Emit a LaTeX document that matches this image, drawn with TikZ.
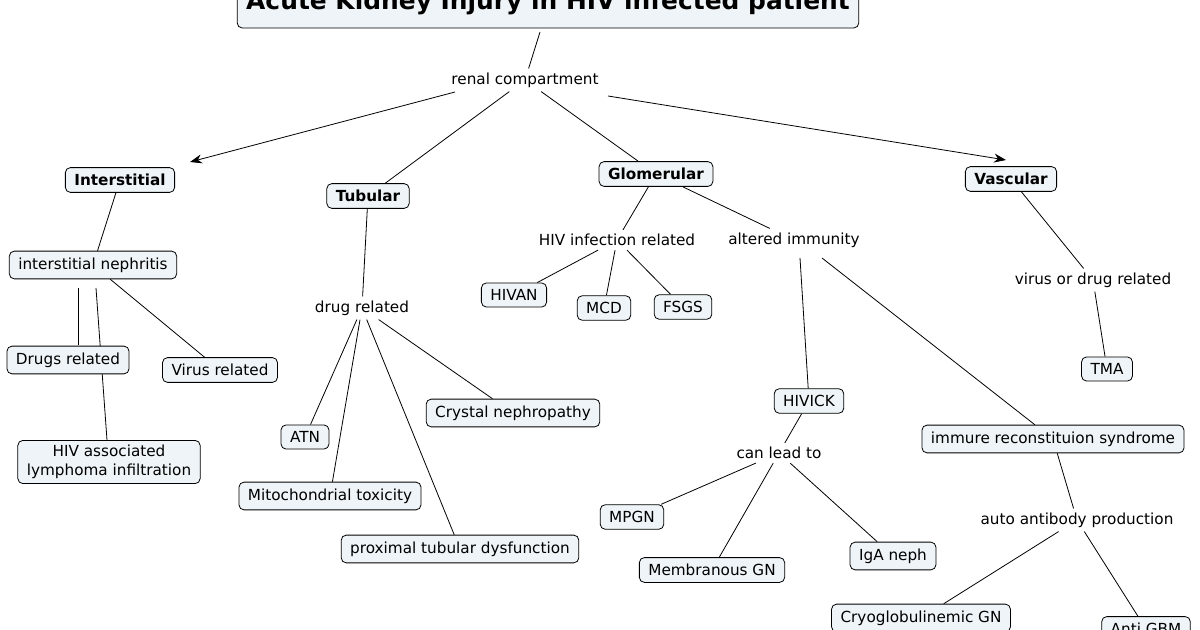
\documentclass[tikz,border=0pt]{standalone}
\usepackage{fontspec}
\setmainfont{DejaVu Sans}
\usetikzlibrary{backgrounds,arrows.meta}
\definecolor{boxfill}{HTML}{EEF4F7}
\tikzset{
  bx/.style={draw=black,fill=boxfill,rounded corners=5bp,line width=0.8bp,inner xsep=9bp,inner ysep=6.5bp,font=\fontsize{15.3}{18.5}\selectfont,align=center},
  bb/.style={bx,font=\fontsize{15.3}{18.5}\selectfont\bfseries},
  lb/.style={inner sep=4bp,font=\fontsize{15.3}{18.5}\selectfont},
  ln/.style={line width=0.8bp},
  ar/.style={ln,-{Stealth[length=12bp,width=9bp]}}
}
\begin{document}
\begin{tikzpicture}[x=1bp,y=-1bp]
\useasboundingbox (0,0) rectangle (1200,630);
\clip (0,0) rectangle (1200,630);
\node[bx,font=\fontsize{25}{29}\selectfont\bfseries,minimum width=621bp,minimum height=50bp,inner ysep=4bp] (t) at (548,3) {Acute Kidney Injury in HIV infected patient};
\node[lb] (rc) at (525,80) {renal compartment};
\node[bb] (int) at (120,180) {Interstitial};
\node[bb] (tub) at (368,196) {Tubular};
\node[bb] (glo) at (656,174) {Glomerular};
\node[bb] (vas) at (1011,179) {Vascular};
\node[lb] (hir) at (617,240) {HIV infection related};
\node[lb] (ai) at (794,240) {altered immunity};
\node[bx] (in) at (93,265) {interstitial nephritis};
\node[bx] (hivan) at (514,295) {HIVAN};
\node[bx] (mcd) at (604,308) {MCD};
\node[bx] (fsgs) at (683,307) {FSGS};
\node[lb] (vdr) at (1093,280) {virus or drug related};
\node[lb] (dr) at (362,308) {drug related};
\node[bx] (drg) at (68,360) {Drugs related};
\node[bx] (vir) at (220,370) {Virus related};
\node[bx] (tma) at (1107,369) {TMA};
\node[bx] (hivick) at (809,401) {HIVICK};
\node[bx] (cry) at (513,413) {Crystal nephropathy};
\node[bx] (atn) at (305,437) {ATN};
\node[bx] (irs) at (1053,439) {immure reconstituion syndrome};
\node[bx,inner ysep=5bp] (hal) at (109,462) {HIV associated\\lymphoma infiltration};
\node[lb] (clt) at (779,453) {can lead to};
\node[bx] (mito) at (330,496) {Mitochondrial toxicity};
\node[bx] (mpgn) at (632,517) {MPGN};
\node[lb] (aap) at (1077,520) {auto antibody production};
\node[bx] (ptd) at (460,549) {proximal tubular dysfunction};
\node[bx] (iga) at (893,556) {IgA neph};
\node[bx] (mgn) at (712,570) {Membranous GN};
\node[bx] (cgn) at (921,618) {Cryoglobulinemic GN};
\node[bx] (gbm) at (1146,629) {Anti GBM};
\begin{scope}[on background layer]
\fill[white] (0,0) rectangle (1200,630);
\draw[ln] (540,32) -- (rc);
\coordinate (r1) at (455,92);
\draw[ar] (r1) -- (190,162);
\draw[ln] (rc) -- (tub);
\draw[ln] (rc) -- (glo);
\coordinate (r2) at (608,96);
\draw[ar] (r2) -- (1006,160);
\draw[ln] (int) -- (in);
\draw[ln] (78,288) -- (78,345);
\draw[ln] (96,288) -- (107,440);
\draw[ln] (in) -- (vir);
\draw[ln] (tub) -- (dr);
\draw[ln] (dr) -- (atn);
\draw[ln] (dr) -- (mito);
\draw[ln] (dr) -- (ptd);
\draw[ln] (dr) -- (cry);
\draw[ln] (glo) -- (hir);
\draw[ln] (glo) -- (ai);
\draw[ln] (hir) -- (hivan);
\draw[ln] (hir) -- (mcd);
\draw[ln] (hir) -- (fsgs);
\coordinate (a1) at (800,258);
\draw[ln] (a1) -- (hivick);
\coordinate (a2) at (822,258);
\draw[ln] (a2) -- (irs);
\draw[ln] (hivick) -- (clt);
\draw[ln] (clt) -- (mpgn);
\draw[ln] (clt) -- (mgn);
\draw[ln] (clt) -- (iga);
\draw[ln] (irs) -- (aap);
\draw[ln] (aap) -- (cgn);
\draw[ln] (aap) -- (gbm);
\draw[ln] (vas) -- (vdr);
\draw[ln] (vdr) -- (tma);
\end{scope}
\end{tikzpicture}
\end{document}
